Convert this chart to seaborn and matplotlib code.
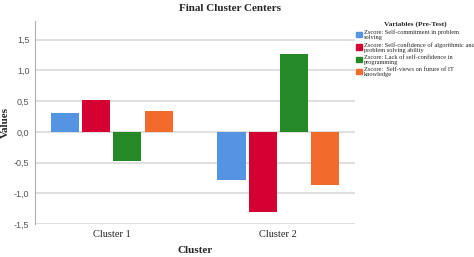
import numpy as np
import pandas as pd
import matplotlib.pyplot as plt
import seaborn as sns
from matplotlib.ticker import FuncFormatter

clusters = ['Cluster 1', 'Cluster 2']
variables = [
    'Zscore: Self-commitment in problem\nsolving',
    'Zscore: Self-confidence of algorithmic and\nproblem solving ability',
    'Zscore: Lack of self-confidence in\nprogramming',
    'Zscore:  Self-views on future of IT\nknowledge',
]
cluster1 = [0.30, 0.51, -0.47, 0.34]
cluster2 = [-0.78, -1.30, 1.26, -0.86]
colors = ['#5594E2', '#D50032', '#258A25', '#F26A2C']

rows = []
for var, v1, v2 in zip(variables, cluster1, cluster2):
    rows.append({'Cluster': clusters[0], 'Variable': var, 'Value': v1})
    rows.append({'Cluster': clusters[1], 'Variable': var, 'Value': v2})
df = pd.DataFrame(rows)

sns.set_style('white')
plt.rcParams['font.family'] = ['Liberation Serif', 'DejaVu Serif']

fig = plt.figure(figsize=(4.74, 2.57), dpi=100)
ax = fig.add_axes([0.074, 0.128, 0.675, 0.79])

sns.barplot(data=df, x='Cluster', y='Value', hue='Variable', order=clusters,
            hue_order=variables, palette=colors, width=0.75, gap=0.1,
            saturation=1, linewidth=0, ax=ax, legend=False, zorder=3)

ax.set_ylim(-1.5, 1.8)
ax.set_xlim(-0.46, 1.46)
ax.set_yticks(np.arange(-1.5, 1.51, 0.5))
ax.yaxis.set_major_formatter(FuncFormatter(lambda v, p: f'{v:.1f}'.replace('.', ',')))
ax.grid(axis='y', color='#d9d9d9', linewidth=1.2, zorder=0)
for s in ['top', 'right', 'bottom']:
    ax.spines[s].set_visible(False)
ax.spines['left'].set_color('#b0b0b0')
ax.tick_params(axis='y', length=0, labelsize=6.5, labelcolor='#555555', pad=4)
ax.tick_params(axis='x', length=0, labelsize=7.5, pad=4)
for lab in ax.get_yticklabels():
    lab.set_family(['Liberation Sans', 'DejaVu Sans'])

ax.set_xlabel('Cluster', fontsize=8, fontweight='bold', labelpad=5)
ax.set_ylabel('Values', fontsize=8, fontweight='bold', labelpad=3)
fig.text(0.485, 0.985, 'Final Cluster Centers', ha='center', va='top',
         fontsize=8, fontweight='bold')

handles = [plt.Rectangle((0, 0), 1, 1, color=c) for c in colors]
leg = fig.legend(handles, variables, loc='upper left', bbox_to_anchor=(0.752, 0.918),
                 title='Variables (Pre-Test)', frameon=False, fontsize=4.6,
                 title_fontproperties={'size': 5.3, 'weight': 'bold'},
                 handlelength=0.9, handleheight=0.9, handletextpad=0.3,
                 labelspacing=0.35, borderaxespad=0, borderpad=0)
for t in leg.get_texts():
    t.set_linespacing(1.0)

fig.savefig('out.png', dpi=100)
